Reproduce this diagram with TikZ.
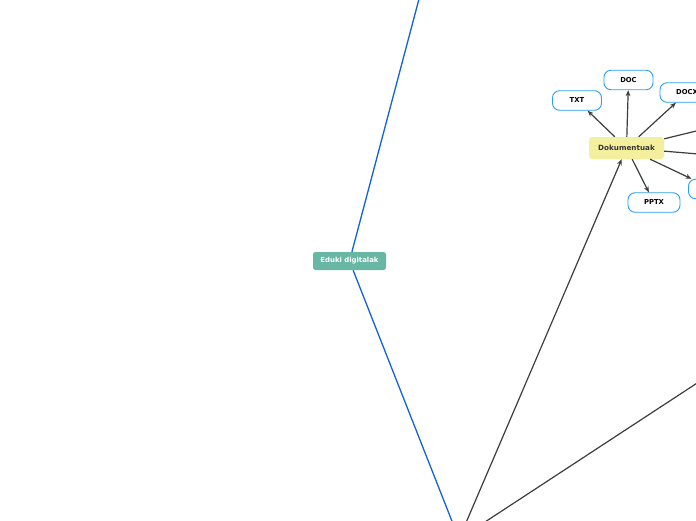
\documentclass[tikz,border=0pt]{standalone}
\usepackage{fontspec}
\setmainfont{DejaVu Sans}
\usetikzlibrary{arrows.meta}
\definecolor{yelfill}{HTML}{F4EF9C}
\definecolor{tealfill}{HTML}{67B7A4}
\definecolor{pillblue}{HTML}{2A9DF0}
\definecolor{linedark}{HTML}{3A3F3B}
\definecolor{lineblue}{HTML}{1462D8}
\tikzset{
  pill/.style={draw=pillblue, line width=0.9pt, fill=white, rounded corners=7pt,
    minimum width=49pt, minimum height=19.5pt, inner sep=0pt,
    font=\fontsize{6.8}{7}\selectfont\bfseries, text=black},
  mainbox/.style={fill=yelfill, rounded corners=3pt, minimum width=75pt, minimum height=22pt,
    inner sep=0pt, font=\fontsize{7.2}{8}\selectfont\bfseries, text=black!80},
  topicbox/.style={fill=tealfill, rounded corners=2.5pt, minimum width=73pt, minimum height=18pt,
    inner sep=0pt, font=\fontsize{6.9}{8}\selectfont\bfseries, text=white},
  darkarrow/.style={draw=linedark, line width=1.2pt, -{Stealth[length=6pt,width=4.8pt]}},
  darkline/.style={draw=linedark, line width=1.2pt},
  blueline/.style={draw=lineblue, line width=1.3pt},
}
\begin{document}
\begin{tikzpicture}[x=1pt,y=-1pt]
\useasboundingbox (0,0) rectangle (696,520);
\fill[white] (0,0) rectangle (696,520);
\clip (0,0) rectangle (696,520);
% off-page anchors
\coordinate (hub) at (459,539);
\coordinate (topend) at (432,-50);
\coordinate (lowright) at (830,296);
\coordinate (r1) at (770,113);
\coordinate (r2) at (770,160);
% nodes
\node[topicbox] (eduki) at (349.5,261) {Eduki digitalak};
\node[mainbox] (dok) at (626.5,148) {Dokumentuak};
\node[pill] (txt) at (577,100.5) {TXT};
\node[pill] (doc) at (628.5,80) {DOC};
\node[pill, minimum width=54pt] (docx) at (687,92.5) {DOCX};
\node[pill, minimum width=52pt] (pptx) at (654,202.5) {PPTX};
\node[pill] (br) at (713,189) {};
% connectors
\draw[blueline] (hub) -- (eduki);
\draw[blueline] (eduki) -- (topend);
\draw[darkarrow] (hub) -- (dok);
\draw[darkline] (hub) -- (lowright);
\draw[darkarrow] (dok) -- (txt);
\draw[darkarrow] (dok) -- (doc);
\draw[darkarrow] (dok) -- (docx);
\draw[darkarrow] (dok) -- (pptx);
\draw[darkarrow] (dok) -- (br);
\draw[darkarrow] (dok) -- (r1);
\draw[darkarrow] (dok) -- (r2);
\end{tikzpicture}
\end{document}
